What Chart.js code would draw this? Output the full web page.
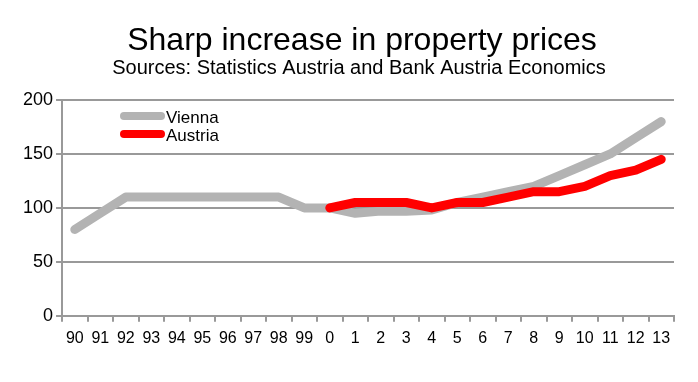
<!DOCTYPE html>
<html>
<head>
<meta charset="utf-8">
<script src="https://cdn.jsdelivr.net/npm/chart.js@4/dist/chart.umd.min.js"></script>
<style>
html,body{margin:0;padding:0;background:#fff;}
#wrap{width:698px;height:382px;position:relative;}
</style>
</head>
<body>
<div id="wrap"><canvas id="c" width="698" height="382"></canvas></div>
<script>
const categories = ['90','91','92','93','94','95','96','97','98','99','0','1','2','3','4','5','6','7','8','9','10','11','12','13'];
const vienna = [80,95,110,110,110,110,110,110,110,100,100,95,97,97,98,105,110,115,120,130,140,150,165,180];
const austria = [null,null,null,null,null,null,null,null,null,null,100,105,105,105,100,105,105,110,115,115,120,130,135,145];
const yTicks = [0,50,100,150,200];
const titleText = 'Sharp increase in property prices';
const subtitleText = 'Sources: Statistics Austria and Bank Austria Economics';

const FONT = '"Liberation Sans", Arial, sans-serif';

const titlePlugin = {
  id: 'customTitle',
  afterDraw(chart) {
    const ctx = chart.ctx;
    ctx.save();
    ctx.fillStyle = '#000';
    ctx.textAlign = 'center';
    ctx.textBaseline = 'alphabetic';
    ctx.font = '32px ' + FONT;
    ctx.fillText(titleText, 362, 50);
    ctx.font = '20px ' + FONT;
    ctx.fillText(subtitleText, 359, 74);
    ctx.restore();
  }
};

const legendPlugin = {
  id: 'innerLegend',
  afterDatasetsDraw(chart) {
    const ctx = chart.ctx;
    const items = chart.data.datasets.map(d => ({label: d.label, color: d.borderColor}));
    ctx.save();
    ctx.font = '17px ' + FONT;
    ctx.textBaseline = 'middle';
    items.forEach((it, i) => {
      const y = 116 + i * 18;
      ctx.strokeStyle = it.color;
      ctx.lineWidth = 8;
      ctx.lineCap = 'round';
      ctx.beginPath();
      ctx.moveTo(124, y);
      ctx.lineTo(161, y);
      ctx.stroke();
      ctx.fillStyle = '#000';
      ctx.fillText(it.label, 166, y + 2);
    });
    ctx.restore();
  }
};

new Chart(document.getElementById('c'), {
  type: 'line',
  data: {
    labels: categories,
    datasets: [
      {label: 'Vienna', data: vienna, order: 1, borderColor: '#b3b3b3', backgroundColor: '#b3b3b3', borderWidth: 9, pointRadius: 0, tension: 0, borderCapStyle: 'round', borderJoinStyle: 'round', spanGaps: false},
      {label: 'Austria', data: austria, order: 0, borderColor: '#ff0000', backgroundColor: '#ff0000', borderWidth: 9, pointRadius: 0, tension: 0, borderCapStyle: 'round', borderJoinStyle: 'round', spanGaps: false}
    ]
  },
  options: {
    responsive: false,
    animation: false,
    devicePixelRatio: 1,
    layout: {padding: {left: 20, right: 24, top: 100, bottom: 27}},
    plugins: {
      legend: {display: false},
      tooltip: {enabled: false},
      title: {display: false}
    },
    scales: {
      x: {
        offset: true,
        grid: {display: true, drawOnChartArea: false, drawTicks: true, tickLength: 6, color: '#999', lineWidth: 2, offset: true},
        border: {display: true, color: '#999', width: 2},
        ticks: {color: '#000', font: {family: FONT, size: 16}, maxRotation: 0, autoSkip: false, padding: 7}
      },
      y: {
        min: 0, max: 200,
        afterBuildTicks(axis) { axis.ticks = yTicks.map(v => ({value: v})); },
        grid: {color: '#999', lineWidth: 2, drawTicks: true, tickLength: 6},
        border: {display: true, color: '#999', width: 2},
        ticks: {color: '#000', font: {family: FONT, size: 18}, padding: 3}
      }
    }
  },
  plugins: [legendPlugin, titlePlugin]
});
</script>
</body>
</html>
